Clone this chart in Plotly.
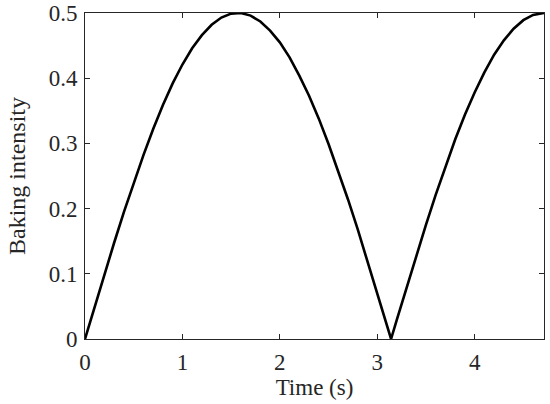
import plotly.graph_objects as go

time_s = [0, 0.1, 0.2, 0.3, 0.4, 0.5, 0.6, 0.7, 0.8, 0.9, 1.0, 1.1, 1.2, 1.3, 1.4, 1.5, 1.571,
          1.6, 1.7, 1.8, 1.9, 2.0, 2.1, 2.2, 2.3, 2.4, 2.5, 2.6, 2.7, 2.8, 2.9, 3.0, 3.1, 3.142,
          3.2, 3.3, 3.4, 3.5, 3.6, 3.7, 3.8, 3.9, 4.0, 4.1, 4.2, 4.3, 4.4, 4.5, 4.6, 4.712]
intensity = [0, 0.050, 0.099, 0.148, 0.195, 0.240, 0.282, 0.322, 0.359, 0.392, 0.421, 0.446,
             0.466, 0.482, 0.493, 0.499, 0.500,
             0.500, 0.496, 0.487, 0.473, 0.455, 0.432, 0.404, 0.373, 0.338, 0.299, 0.258,
             0.214, 0.168, 0.120, 0.071, 0.021, 0.0,
             0.029, 0.079, 0.128, 0.175, 0.221, 0.265, 0.306, 0.344, 0.378, 0.409, 0.436,
             0.458, 0.476, 0.489, 0.497, 0.500]

x_ticks = [0, 1, 2, 3, 4]
y_ticks = [0, 0.1, 0.2, 0.3, 0.4, 0.5]
y_tick_labels = ["0", "0.1", "0.2", "0.3", "0.4", "0.5"]

FONT = "Liberation Serif"
INK = "#262626"

fig = go.Figure(go.Scatter(x=time_s, y=intensity, mode="lines",
                           line=dict(color="black", width=2.6), showlegend=False,
                           hoverinfo="skip"))

axis_common = dict(showgrid=False, zeroline=False, showline=True, linecolor=INK,
                   linewidth=1, mirror="ticks", ticks="inside", ticklen=5, tickcolor=INK,
                   automargin=False, ticklabelstandoff=2, ticklabeloverflow="allow",
                   tickfont=dict(family=FONT, size=23, color=INK))

fig.update_xaxes(range=[0, 4.712], tickvals=x_ticks, ticktext=[str(v) for v in x_ticks],
                 title=dict(text="Time (s)", font=dict(family=FONT, size=23, color=INK), standoff=2),
                 **axis_common)
fig.update_yaxes(range=[0, 0.5], tickvals=y_ticks, ticktext=y_tick_labels,
                 title=dict(text="Baking intensity", font=dict(family=FONT, size=24, color=INK), standoff=16),
                 **axis_common)

fig.update_layout(width=550, height=404, margin=dict(l=85, r=6, t=13, b=65),
                  plot_bgcolor="white", paper_bgcolor="white")

fig.write_html("out.html", config={"displayModeBar": False},
               post_script="document.body.style.margin='0';document.body.style.overflow='hidden';")
